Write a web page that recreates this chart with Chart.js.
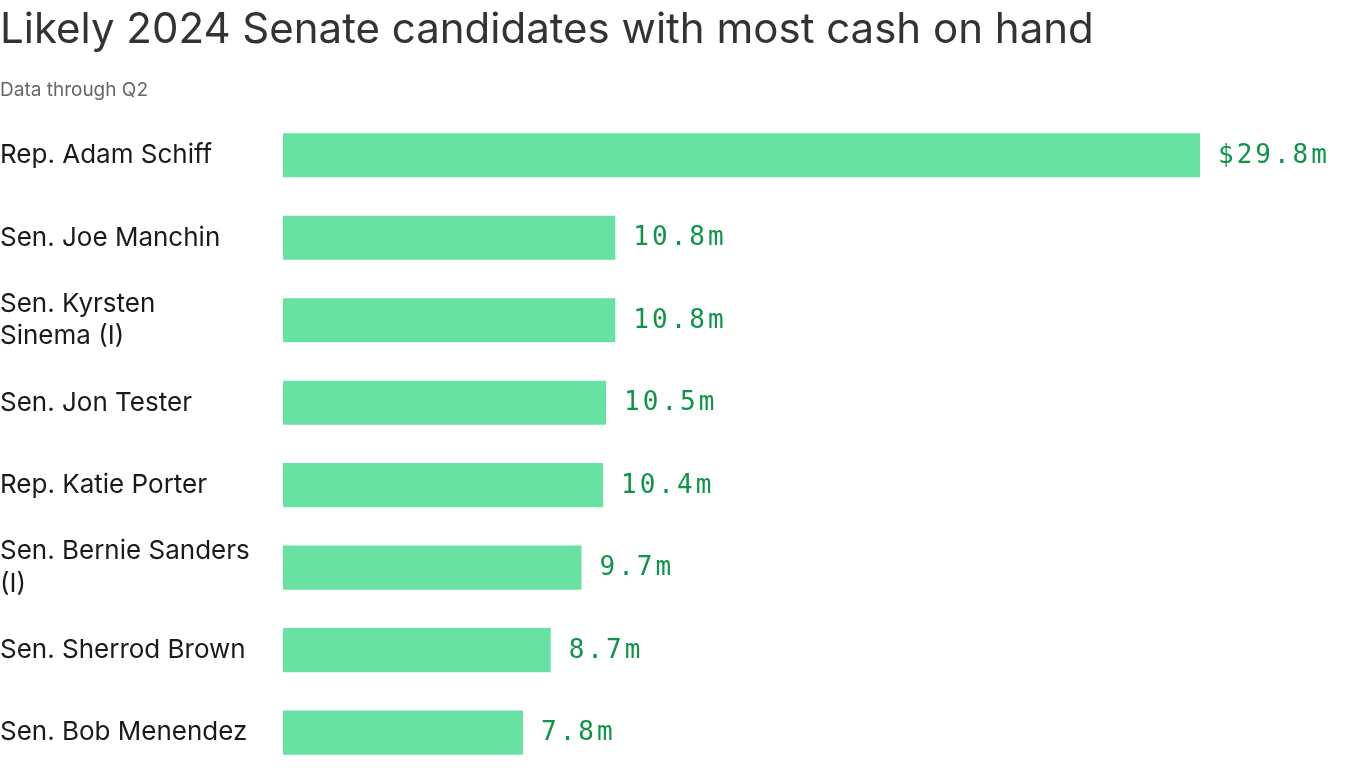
<!DOCTYPE html>
<html>
<head>
<meta charset="utf-8">
<script src="https://cdn.jsdelivr.net/npm/chart.js@4"></script>
<style>
    html, body { margin: 0; padding: 0; background: #fff; overflow: hidden; }
    #wrap { position: relative; width: 1366px; height: 790px; }
    #chart { position: absolute; left: 0; top: 0; }
    #title {
        position: absolute; left: 0; top: 2px;
        font-family: "Inter", sans-serif; font-size: 42px; color: #333;
        white-space: nowrap;
    }
    #subtitle {
        position: absolute; left: 0; top: 78px;
        font-family: "Inter", sans-serif; font-size: 19px; color: #666;
        white-space: nowrap;
    }
</style>
</head>
<body>
<div id="wrap">
    <canvas id="chart" width="1366" height="790"></canvas>
    <div id="title">Likely 2024 Senate candidates with most cash on hand</div>
    <div id="subtitle">Data through Q2</div>
</div>
<script>
const candidates = [
    "Rep. Adam Schiff",
    "Sen. Joe Manchin",
    ["Sen. Kyrsten", "Sinema (I)"],
    "Sen. Jon Tester",
    "Rep. Katie Porter",
    ["Sen. Bernie Sanders", "(I)"],
    "Sen. Sherrod Brown",
    "Sen. Bob Menendez"
];
const cashOnHand = [29.8, 10.8, 10.8, 10.5, 10.4, 9.7, 8.7, 7.8];
const valueLabels = ["$29.8m", "10.8m", "10.8m", "10.5m", "10.4m", "9.7m", "8.7m", "7.8m"];

// draw the green value text at the end of each bar
const valueLabelPlugin = {
    id: "valueLabels",
    afterDatasetsDraw(chart) {
        const ctx = chart.ctx;
        const meta = chart.getDatasetMeta(0);
        ctx.save();
        ctx.font = "26px 'DejaVu Sans Mono', monospace";
        ctx.fillStyle = "#0d9447";
        ctx.textAlign = "left";
        ctx.textBaseline = "middle";
        if ("letterSpacing" in ctx) ctx.letterSpacing = "3px";
        meta.data.forEach(function (bar, i) {
            ctx.fillText(valueLabels[i], bar.x + 18, bar.y + 1);
        });
        ctx.restore();
    }
};

const ctx = document.getElementById("chart").getContext("2d");

new Chart(ctx, {
    type: "bar",
    data: {
        labels: candidates,
        datasets: [{
            data: cashOnHand,
            backgroundColor: "#67e2a3",
            borderWidth: 0,
            barPercentage: 0.535,
            categoryPercentage: 1
        }]
    },
    options: {
        indexAxis: "y",
        responsive: false,
        animation: false,
        layout: {
            padding: { top: 114, bottom: 16, left: 0, right: 166 }
        },
        plugins: {
            legend: { display: false },
            tooltip: { enabled: false }
        },
        scales: {
            x: {
                display: false,
                min: 0,
                max: 29.8
            },
            y: {
                grid: { display: false, drawTicks: false },
                border: { display: false },
                afterFit(scale) {
                    scale.width = 283;
                },
                ticks: {
                    crossAlign: "far",
                    color: "#1a1a1a",
                    padding: 0,
                    font: { family: "Inter", size: 26, lineHeight: 1.24 }
                }
            }
        }
    },
    plugins: [valueLabelPlugin]
});
</script>
</body>
</html>
